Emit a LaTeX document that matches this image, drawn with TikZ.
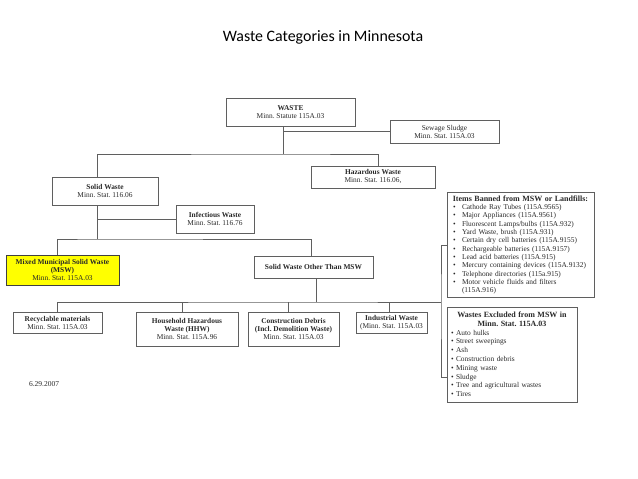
\documentclass[tikz,border=0pt]{standalone}
\usepackage{fontspec}
\setmainfont{Liberation Serif}
\newfontfamily\titlefont{Carlito}
\usepackage{xcolor}
\usetikzlibrary{positioning}
\setlength{\parindent}{0pt}
\frenchspacing

\definecolor{linegray}{RGB}{95,95,95}
\definecolor{textgray}{RGB}{40,40,40}
\definecolor{mswyellow}{RGB}{255,255,0}

\newcommand{\banitem}[1]{\par\hspace*{3pt}\makebox[9pt][l]{\textbullet}#1}
\newcommand{\exitem}[1]{\par\hspace*{1pt}\textbullet\ #1}
\newcommand{\headfont}{\fontsize{8}{8.4}\selectfont\bfseries}

\tikzset{
  box/.style 2 args={draw=linegray, line width=0.7pt, align=center, inner sep=1pt,
    minimum width=#1pt, minimum height=#2pt, font=\fontsize{7.4}{8}\selectfont\frenchspacing, text=textgray},
  listbox/.style={draw=linegray, line width=0.7pt, align=left, inner sep=3pt,
    text width=#1pt, text=textgray},
  conn/.style={draw=linegray, line width=0.7pt}
}

\begin{document}
\begin{tikzpicture}[x=1pt, y=-1pt]
  \useasboundingbox (0,0) rectangle (638,479);

  % Nodes
  \node (title) at (323,37) {\titlefont\fontsize{15.9}{18}\selectfont Waste Categories in Minnesota};

  \node (waste)  [box={129}{28}] at (290.5,112) {\textbf{WASTE}\\Minn. Statute 115A.03};
  \node (sludge) [box={109}{23}] at (444.5,131.5) {Sewage Sludge\\Minn. Stat. 115A.03};
  \node (hazard) [box={124}{22}] at (373,177) {\textbf{Hazardous Waste}\\Minn. Stat. 116.06,};
  \node (solid)  [box={106}{28}] at (105,191) {\textbf{Solid Waste}\\Minn. Stat. 116.06};
  \node (infect) [box={78}{28}] at (215,219) {\textbf{Infectious Waste}\\Minn. Stat. 116.76};
  \node (msw)    [box={113}{30}, fill=mswyellow, draw=black!75] at (62.5,270)
    {\textbf{Mixed Municipal Solid Waste}\\\textbf{(MSW)}\\Minn. Stat. 115A.03};
  \node (other)  [box={119}{22}] at (313.5,267) {\textbf{Solid Waste Other Than MSW}};

  \node (recyc)  [box={89}{21}] at (57.5,322.5) {\textbf{Recyclable materials}\\Minn. Stat. 115A.03};
  \node (hhw)    [box={102}{34}] at (187,329) {\textbf{Household Hazardous}\\\textbf{Waste (HHW)}\\Minn. Stat. 115A.96};
  \node (constr) [box={91}{34}] at (293.5,329) {\textbf{Construction Debris}\\\textbf{(Incl. Demolition Waste)}\\Minn. Stat. 115A.03};
  \node (indus)  [box={71}{21}] at (391.5,322.5) {\textbf{Industrial Waste}\\(Minn. Stat. 115A.03};

  \node (banned) [listbox=141, font=\fontsize{7.4}{8.3}\selectfont] at (520.5,245) {%
    {\centering\headfont Items Banned from MSW or Landfills:\par}
    \banitem{Cathode Ray Tubes (115A.9565)}
    \banitem{Major Appliances (115A.9561)}
    \banitem{Fluorescent Lamps/bulbs (115A.932)}
    \banitem{Yard Waste, brush (115A.931)}
    \banitem{Certain dry cell batteries (115A.9155)}
    \banitem{Rechargeable batteries (115A.9157)}
    \banitem{Lead acid batteries (115A.915)}
    \banitem{Mercury containing devices (115A.9132)}
    \banitem{Telephone directories (115a.915)}
    \banitem{Motor vehicle fluids and filters}
    \par\hspace*{12pt}(115A.916)};

  \node (excl) [listbox=124, font=\fontsize{7.4}{8.8}\selectfont, minimum height=95pt] at (512,354.5) {%
    {\centering\headfont Wastes Excluded from MSW in\\Minn. Stat. 115A.03\par}
    \exitem{Auto hulks}
    \exitem{Street sweepings}
    \exitem{Ash}
    \exitem{Construction debris}
    \exitem{Mining waste}
    \exitem{Sludge}
    \exitem{Tree and agricultural wastes}
    \exitem{Tires}};

  \node (date) [font=\fontsize{7.5}{8}\selectfont, text=textgray] at (44,384) {6.29.2007};

  % Junctions
  \coordinate (wj) at (283,154);
  \coordinate (sj) at (97,239);
  \coordinate (oj) at (316,302);
  \coordinate (bj) at (441,302);

  % Connectors
  \draw[conn] ([xshift=-7.5pt]waste.south) |- (sludge.west);
  \draw[conn] ([xshift=-7.5pt]waste.south) -- (wj);
  \draw[conn] ([xshift=-8pt]solid.north) |- (wj) -| ([xshift=5pt]hazard.north);
  \draw[conn] ([xshift=-8pt]solid.south) |- (infect.west);
  \draw[conn] ([xshift=-8pt]solid.south) -- (sj);
  \draw[conn] ([xshift=-5.5pt]msw.north) |- (sj) -| ([xshift=-2.5pt]other.north);
  \draw[conn] ([xshift=2.5pt]other.south) -- (oj);
  \draw[conn] (recyc.north) |- (oj) -- (bj);
  \draw[conn] ([xshift=-5pt]hhw.north) -- ([xshift=-5pt]hhw.north |- oj);
  \draw[conn] ([xshift=-5.5pt]constr.north) -- ([xshift=-5.5pt]constr.north |- oj);
  \draw[conn] ([xshift=-2.5pt]indus.north) -- ([xshift=-2.5pt]indus.north |- oj);
  \draw[conn] (banned.west) -| (bj) |- ([yshift=-22.5pt]excl.west);

\end{tikzpicture}
\end{document}
